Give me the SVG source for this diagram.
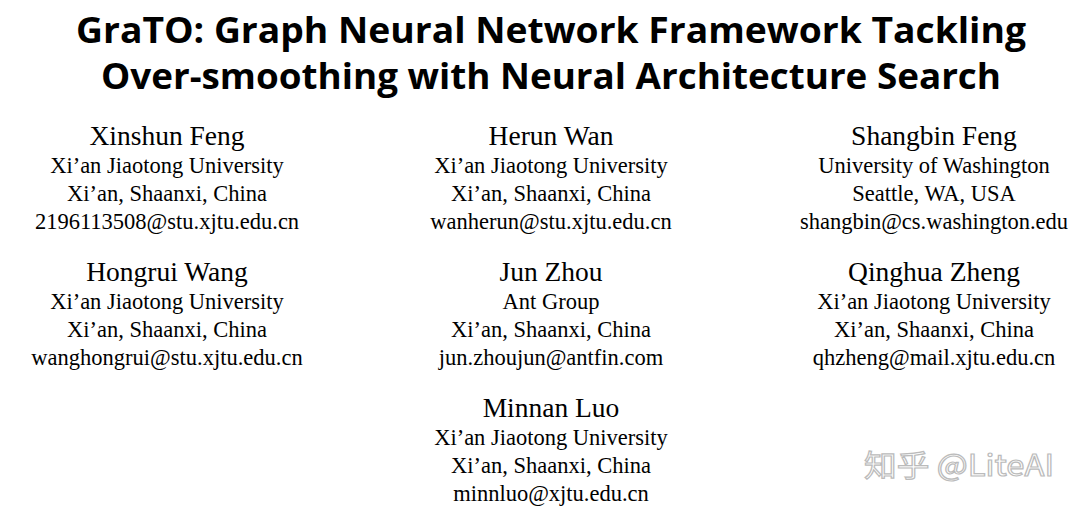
<svg xmlns="http://www.w3.org/2000/svg" width="1082" height="510" viewBox="0 0 1082 510">
<style>
.t{font-family:"Open Sans","Liberation Sans",sans-serif;font-weight:bold;font-size:35px;fill:#000;text-anchor:middle}
.n{font-family:"Liberation Serif",serif;font-size:27.5px;fill:#000;text-anchor:middle}
.a{font-family:"Liberation Serif",serif;font-size:22.5px;fill:#000;text-anchor:middle}
.w{font-family:"Noto Sans CJK SC","Liberation Sans",sans-serif;font-size:30px;fill:#fff;stroke:#bbb;stroke-width:1.2}
</style>
<rect width="1082" height="510" fill="#fff"/>
<text class="t" x="551" y="43" textLength="950" lengthAdjust="spacingAndGlyphs">GraTO: Graph Neural Network Framework Tackling</text>
<text class="t" x="551" y="89" textLength="900" lengthAdjust="spacingAndGlyphs">Over-smoothing with Neural Architecture Search</text>
<g id="a1"><text class="n" x="167" y="145">Xinshun Feng</text><text class="a" x="167" y="173">Xi’an Jiaotong University</text><text class="a" x="167" y="201">Xi’an, Shaanxi, China</text><text class="a" x="167" y="229">2196113508@stu.xjtu.edu.cn</text></g>
<g id="a2"><text class="n" x="551" y="145">Herun Wan</text><text class="a" x="551" y="173">Xi’an Jiaotong University</text><text class="a" x="551" y="201">Xi’an, Shaanxi, China</text><text class="a" x="551" y="229">wanherun@stu.xjtu.edu.cn</text></g>
<g id="a3"><text class="n" x="934" y="145">Shangbin Feng</text><text class="a" x="934" y="173">University of Washington</text><text class="a" x="934" y="201">Seattle, WA, USA</text><text class="a" x="934" y="229">shangbin@cs.washington.edu</text></g>
<g id="a4"><text class="n" x="167" y="281">Hongrui Wang</text><text class="a" x="167" y="309">Xi’an Jiaotong University</text><text class="a" x="167" y="337">Xi’an, Shaanxi, China</text><text class="a" x="167" y="365">wanghongrui@stu.xjtu.edu.cn</text></g>
<g id="a5"><text class="n" x="551" y="281">Jun Zhou</text><text class="a" x="551" y="309">Ant Group</text><text class="a" x="551" y="337">Xi’an, Shaanxi, China</text><text class="a" x="551" y="365">jun.zhoujun@antfin.com</text></g>
<g id="a6"><text class="n" x="934" y="281">Qinghua Zheng</text><text class="a" x="934" y="309">Xi’an Jiaotong University</text><text class="a" x="934" y="337">Xi’an, Shaanxi, China</text><text class="a" x="934" y="365">qhzheng@mail.xjtu.edu.cn</text></g>
<g id="a7"><text class="n" x="551" y="417">Minnan Luo</text><text class="a" x="551" y="445">Xi’an Jiaotong University</text><text class="a" x="551" y="473">Xi’an, Shaanxi, China</text><text class="a" x="551" y="501">minnluo@xjtu.edu.cn</text></g>
<text class="w" x="864" y="476" textLength="190" lengthAdjust="spacingAndGlyphs">知乎 @LiteAI</text>
</svg>
